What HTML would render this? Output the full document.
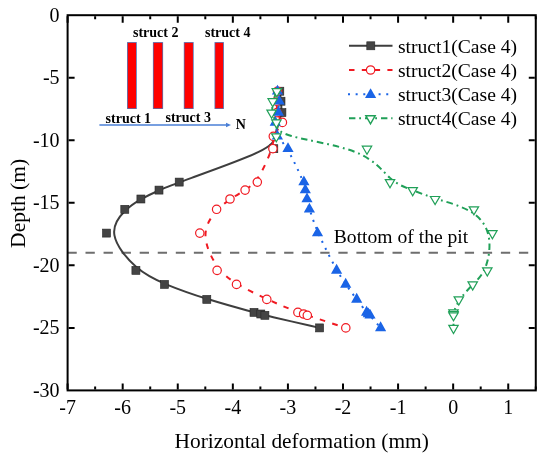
<!DOCTYPE html>
<html><head><meta charset="utf-8"><title>Horizontal deformation vs depth</title>
<style>html,body{margin:0;padding:0;background:#fff;width:550px;height:459px;overflow:hidden}svg{display:block}</style>
</head><body>
<svg width="550" height="459" viewBox="0 0 550 459">
<path d="M67.44 252.83H531.78" stroke="#6e6e6e" stroke-width="2" stroke-dasharray="9.3 8.76" fill="none"/>
<path d="M279.80 91.20C279.80 91.20 279.80 91.20 280.00 92.87C280.20 94.53 280.60 97.87 280.95 101.43C281.30 105.00 281.60 108.80 281.27 112.33C280.93 115.87 279.97 119.13 278.73 123.08C277.50 127.03 276.00 131.67 275.13 136.05C274.27 140.43 274.03 144.57 258.15 152.20C242.27 159.83 210.73 170.97 191.60 177.87C172.47 184.77 165.73 187.43 159.35 190.25C152.97 193.07 146.93 196.03 141.23 199.23C135.53 202.43 130.17 205.87 124.43 211.55C118.70 217.23 112.60 225.17 114.45 235.35C116.30 245.53 126.10 257.97 135.77 266.52C145.43 275.07 154.97 279.73 166.78 284.57C178.60 289.40 192.70 294.40 207.62 299.07C222.53 303.73 238.27 308.07 247.27 310.50C256.27 312.93 258.53 313.47 260.35 313.95C262.17 314.43 263.53 314.87 273.33 317.18C283.13 319.50 301.37 323.70 310.48 325.80C319.60 327.90 319.60 327.90 319.60 327.90" fill="none" stroke="#3e3e3e" stroke-width="2"/>
<g fill="#444444" stroke="#262626" stroke-width="0.6"><rect x="275.80" y="87.20" width="8" height="8"/><rect x="277.00" y="97.20" width="8" height="8"/><rect x="277.90" y="108.60" width="8" height="8"/><rect x="269.80" y="144.70" width="8" height="8"/><rect x="175.20" y="178.10" width="8" height="8"/><rect x="155.00" y="186.10" width="8" height="8"/><rect x="136.90" y="195.00" width="8" height="8"/><rect x="120.80" y="205.30" width="8" height="8"/><rect x="102.50" y="229.10" width="8" height="8"/><rect x="131.90" y="266.40" width="8" height="8"/><rect x="160.50" y="280.40" width="8" height="8"/><rect x="202.80" y="295.40" width="8" height="8"/><rect x="250.00" y="308.40" width="8" height="8"/><rect x="256.80" y="310.00" width="8" height="8"/><rect x="260.90" y="311.30" width="8" height="8"/><rect x="315.60" y="323.90" width="8" height="8"/></g>
<path d="M277.50 91.20C277.50 91.20 277.50 91.20 277.33 92.87C277.17 94.53 276.83 97.87 276.75 101.43C276.67 105.00 276.83 108.80 277.82 112.33C278.80 115.87 280.60 119.13 279.98 123.08C279.37 127.03 276.33 131.67 274.75 136.05C273.17 140.43 273.03 144.57 270.37 152.20C267.70 159.83 262.50 170.97 257.87 177.87C253.23 184.77 249.17 187.43 244.62 190.25C240.07 193.07 235.03 196.03 230.28 199.23C225.53 202.43 221.07 205.87 216.03 211.55C211.00 217.23 205.40 225.17 205.48 235.35C205.57 245.53 211.33 257.97 217.45 266.52C223.57 275.07 230.03 279.73 238.32 284.57C246.60 289.40 256.70 294.40 266.93 299.07C277.17 303.73 287.53 308.07 293.67 310.50C299.80 312.93 301.70 313.47 303.27 313.95C304.83 314.43 306.07 314.87 313.10 317.18C320.13 319.50 332.97 323.70 339.38 325.80C345.80 327.90 345.80 327.90 345.80 327.90" fill="none" stroke="#f01a22" stroke-width="2" stroke-dasharray="5.6 7.33" stroke-dashoffset="0.5"/>
<g fill="#fff" stroke="#f01a22" stroke-width="1.2"><circle cx="277.50" cy="91.20" r="4.2"/><circle cx="276.50" cy="101.20" r="4.2"/><circle cx="277.00" cy="112.60" r="4.2"/><circle cx="282.40" cy="122.40" r="4.2"/><circle cx="273.30" cy="136.30" r="4.2"/><circle cx="272.90" cy="148.70" r="4.2"/><circle cx="257.30" cy="182.10" r="4.2"/><circle cx="245.10" cy="190.10" r="4.2"/><circle cx="230.00" cy="199.00" r="4.2"/><circle cx="216.60" cy="209.30" r="4.2"/><circle cx="199.80" cy="233.10" r="4.2"/><circle cx="217.10" cy="270.40" r="4.2"/><circle cx="236.50" cy="284.40" r="4.2"/><circle cx="266.80" cy="299.40" r="4.2"/><circle cx="297.90" cy="312.40" r="4.2"/><circle cx="303.60" cy="314.00" r="4.2"/><circle cx="307.30" cy="315.30" r="4.2"/><circle cx="345.80" cy="327.90" r="4.2"/></g>
<path d="M277.50 91.20C277.50 91.20 277.50 91.20 277.78 92.87C278.07 94.53 278.63 97.87 278.78 101.43C278.93 105.00 278.67 108.80 278.02 112.33C277.37 115.87 276.33 119.13 276.17 123.08C276.00 127.03 276.70 131.67 278.82 136.05C280.93 140.43 284.47 144.57 288.88 152.20C293.30 159.83 298.60 170.97 301.48 177.87C304.37 184.77 304.83 187.43 305.35 190.25C305.87 193.07 306.43 196.03 307.12 199.23C307.80 202.43 308.60 205.87 310.35 211.55C312.10 217.23 314.80 225.17 319.33 235.35C323.87 245.53 330.23 257.97 334.93 266.52C339.63 275.07 342.67 279.73 346.02 284.57C349.37 289.40 353.03 294.40 356.52 299.07C360.00 303.73 363.30 308.07 365.23 310.50C367.17 312.93 367.73 313.47 368.30 313.95C368.87 314.43 369.43 314.87 371.48 317.18C373.53 319.50 377.07 323.70 378.83 325.80C380.60 327.90 380.60 327.90 380.60 327.90" fill="none" stroke="#1a64e6" stroke-width="2" stroke-dasharray="2 5.643" stroke-dashoffset="0.657"/>
<path d="M277.50 84.67l5.6 9.8h-11.2zM279.20 94.67l5.6 9.8h-11.2zM278.40 106.07l5.6 9.8h-11.2zM275.30 115.87l5.6 9.8h-11.2zM277.40 129.77l5.6 9.8h-11.2zM288.00 142.17l5.6 9.8h-11.2zM303.90 175.57l5.6 9.8h-11.2zM305.30 183.57l5.6 9.8h-11.2zM307.00 192.47l5.6 9.8h-11.2zM309.40 202.77l5.6 9.8h-11.2zM317.50 226.57l5.6 9.8h-11.2zM336.60 263.87l5.6 9.8h-11.2zM345.70 277.87l5.6 9.8h-11.2zM356.70 292.87l5.6 9.8h-11.2zM366.60 305.87l5.6 9.8h-11.2zM368.30 307.47l5.6 9.8h-11.2zM370.00 308.77l5.6 9.8h-11.2zM380.60 321.37l5.6 9.8h-11.2z" fill="#1a64e6"/>
<path d="M276.80 91.20C276.80 91.20 276.80 91.20 276.12 92.87C275.43 94.53 274.07 97.87 273.20 101.43C272.33 105.00 271.97 108.80 272.58 112.33C273.20 115.87 274.80 119.13 275.58 123.08C276.37 127.03 276.33 131.67 291.43 136.05C306.53 140.43 336.77 144.57 355.72 152.20C374.67 159.83 382.33 170.97 389.95 177.87C397.57 184.77 405.13 187.43 412.65 190.25C420.17 193.07 427.63 196.03 437.83 199.23C448.03 202.43 460.97 205.87 470.52 211.55C480.07 217.23 486.23 225.17 488.47 235.35C490.70 245.53 489.00 257.97 485.72 266.52C482.43 275.07 477.57 279.73 472.82 284.57C468.07 289.40 463.43 294.40 460.23 299.07C457.03 303.73 455.27 308.07 454.38 310.50C453.50 312.93 453.50 313.47 453.50 313.95C453.50 314.43 453.50 314.87 453.50 317.18C453.50 319.50 453.50 323.70 453.50 325.80C453.50 327.90 453.50 327.90 453.50 327.90" fill="none" stroke="#20a058" stroke-width="2" stroke-dasharray="6.5 3.9 1.8 3.95" stroke-dashoffset="15.8"/>
<g fill="#fff" stroke="#20a058" stroke-width="1.2"><path d="M272.10 88.70h9.4l-4.7 8.1z"/><path d="M268.00 98.70h9.4l-4.7 8.1z"/><path d="M266.90 110.10h9.4l-4.7 8.1z"/><path d="M271.70 119.90h9.4l-4.7 8.1z"/><path d="M271.60 133.80h9.4l-4.7 8.1z"/><path d="M362.30 146.20h9.4l-4.7 8.1z"/><path d="M385.30 179.60h9.4l-4.7 8.1z"/><path d="M408.00 187.60h9.4l-4.7 8.1z"/><path d="M430.40 196.50h9.4l-4.7 8.1z"/><path d="M469.20 206.80h9.4l-4.7 8.1z"/><path d="M487.70 230.60h9.4l-4.7 8.1z"/><path d="M482.60 267.90h9.4l-4.7 8.1z"/><path d="M468.00 281.90h9.4l-4.7 8.1z"/><path d="M454.10 296.90h9.4l-4.7 8.1z"/><path d="M448.80 309.90h9.4l-4.7 8.1z"/><path d="M448.80 311.50h9.4l-4.7 8.1z"/><path d="M448.80 312.80h9.4l-4.7 8.1z"/><path d="M448.80 325.40h9.4l-4.7 8.1z"/></g>
<rect x="67.60" y="15.20" width="468.18" height="375.21" fill="none" stroke="#000" stroke-width="2"/>
<path d="M67.60 389.41v-6 M67.60 16.20v6.6 M122.68 389.41v-6 M122.68 16.20v6.6 M177.76 389.41v-6 M177.76 16.20v6.6 M232.84 389.41v-6 M232.84 16.20v6.6 M287.92 389.41v-6 M287.92 16.20v6.6 M343.00 389.41v-6 M343.00 16.20v6.6 M398.08 389.41v-6 M398.08 16.20v6.6 M453.16 389.41v-6 M453.16 16.20v6.6 M508.24 389.41v-6 M508.24 16.20v6.6 M95.14 389.41v-3 M95.14 16.20v3 M150.22 389.41v-3 M150.22 16.20v3 M205.30 389.41v-3 M205.30 16.20v3 M260.38 389.41v-3 M260.38 16.20v3 M315.46 389.41v-3 M315.46 16.20v3 M370.54 389.41v-3 M370.54 16.20v3 M425.62 389.41v-3 M425.62 16.20v3 M480.70 389.41v-3 M480.70 16.20v3 M535.78 389.41v-3 M535.78 16.20v3 M68.60 77.73h6 M534.78 77.73h-6 M68.60 140.27h6 M534.78 140.27h-6 M68.60 202.80h6 M534.78 202.80h-6 M68.60 265.34h6 M534.78 265.34h-6 M68.60 327.88h6 M534.78 327.88h-6" stroke="#000" stroke-width="2" fill="none"/>
<g font-family="'Liberation Serif', 'Times New Roman', serif" font-size="20" fill="#000"><text x="59.6" y="21.60" text-anchor="end">0</text><text x="59.6" y="84.14" text-anchor="end">-5</text><text x="59.6" y="146.67" text-anchor="end">-10</text><text x="59.6" y="209.20" text-anchor="end">-15</text><text x="59.6" y="271.74" text-anchor="end">-20</text><text x="59.6" y="334.27" text-anchor="end">-25</text><text x="59.6" y="396.81" text-anchor="end">-30</text><text x="67.60" y="413.8" text-anchor="middle">-7</text><text x="122.68" y="413.8" text-anchor="middle">-6</text><text x="177.76" y="413.8" text-anchor="middle">-5</text><text x="232.84" y="413.8" text-anchor="middle">-4</text><text x="287.92" y="413.8" text-anchor="middle">-3</text><text x="343.00" y="413.8" text-anchor="middle">-2</text><text x="398.08" y="413.8" text-anchor="middle">-1</text><text x="453.16" y="413.8" text-anchor="middle">0</text><text x="508.24" y="413.8" text-anchor="middle">1</text></g>
<text x="301.7" y="447.6" text-anchor="middle" font-family="'Liberation Serif', 'Times New Roman', serif" font-size="21.4">Horizontal deformation (mm)</text>
<text transform="translate(24.8 203.4) rotate(-90)" text-anchor="middle" font-family="'Liberation Serif', 'Times New Roman', serif" font-size="21.5">Depth (m)</text>
<text x="333.8" y="243.4" font-family="'Liberation Serif', 'Times New Roman', serif" font-size="19.6">Bottom of the pit</text>
<rect x="127.05" y="42.1" width="9.75" height="66.9" fill="#5574b4"/>
<rect x="127.85" y="42.85" width="8.15" height="65.4" fill="#ff0000"/>
<rect x="152.90" y="42.1" width="10.20" height="66.9" fill="#5574b4"/>
<rect x="153.70" y="42.85" width="8.60" height="65.4" fill="#ff0000"/>
<rect x="183.80" y="42.1" width="9.90" height="66.9" fill="#5574b4"/>
<rect x="184.60" y="42.85" width="8.30" height="65.4" fill="#ff0000"/>
<rect x="214.50" y="42.1" width="9.40" height="66.9" fill="#5574b4"/>
<rect x="215.30" y="42.85" width="7.80" height="65.4" fill="#ff0000"/>
<path d="M99.4 125H229" stroke="#4a7fd6" stroke-width="1.5" fill="none"/>
<path d="M231 125l-5 -2.2v4.4z" fill="#4a7fd6"/>
<text x="105.6" y="122.5" font-family="'Liberation Serif', 'Times New Roman', serif" font-size="14" font-weight="bold">struct 1</text>
<text x="133" y="37" font-family="'Liberation Serif', 'Times New Roman', serif" font-size="14" font-weight="bold">struct 2</text>
<text x="165.5" y="121.8" font-family="'Liberation Serif', 'Times New Roman', serif" font-size="14" font-weight="bold">struct 3</text>
<text x="205" y="37" font-family="'Liberation Serif', 'Times New Roman', serif" font-size="14" font-weight="bold">struct 4</text>
<text x="235.8" y="128.7" font-family="'Liberation Serif', 'Times New Roman', serif" font-size="14" font-weight="bold">N</text>
<path d="M349 45.8H392.5" stroke="#3e3e3e" stroke-width="2"/>
<rect x="366.8" y="41.8" width="8" height="8" fill="#444444" stroke="#262626" stroke-width="0.6"/>
<path d="M349 70.0H392.5" stroke="#f01a22" stroke-width="2" stroke-dasharray="5.5 7.3"/>
<circle cx="370.6" cy="70.0" r="4.2" fill="#fff" stroke="#f01a22" stroke-width="1.2"/>
<path d="M348 94.2H392.5" stroke="#1a64e6" stroke-width="2" stroke-dasharray="2 5.65"/>
<path d="M370.60 88.17l5.6 9.8h-11.2z" fill="#1a64e6"/>
<path d="M349 118.2H392.5" stroke="#20a058" stroke-width="2" stroke-dasharray="6.4 3.8 1.8 4"/>
<path d="M365.80 115.70h9.4l-4.7 8.1z" fill="#fff" stroke="#20a058" stroke-width="1.4"/>
<g font-family="'Liberation Serif', 'Times New Roman', serif" font-size="19.6"><text x="397.9" y="53.0">struct1(Case 4)</text><text x="397.9" y="77.2">struct2(Case 4)</text><text x="397.9" y="101.4">struct3(Case 4)</text><text x="397.9" y="125.4">struct4(Case 4)</text></g>
</svg>
</body></html>
